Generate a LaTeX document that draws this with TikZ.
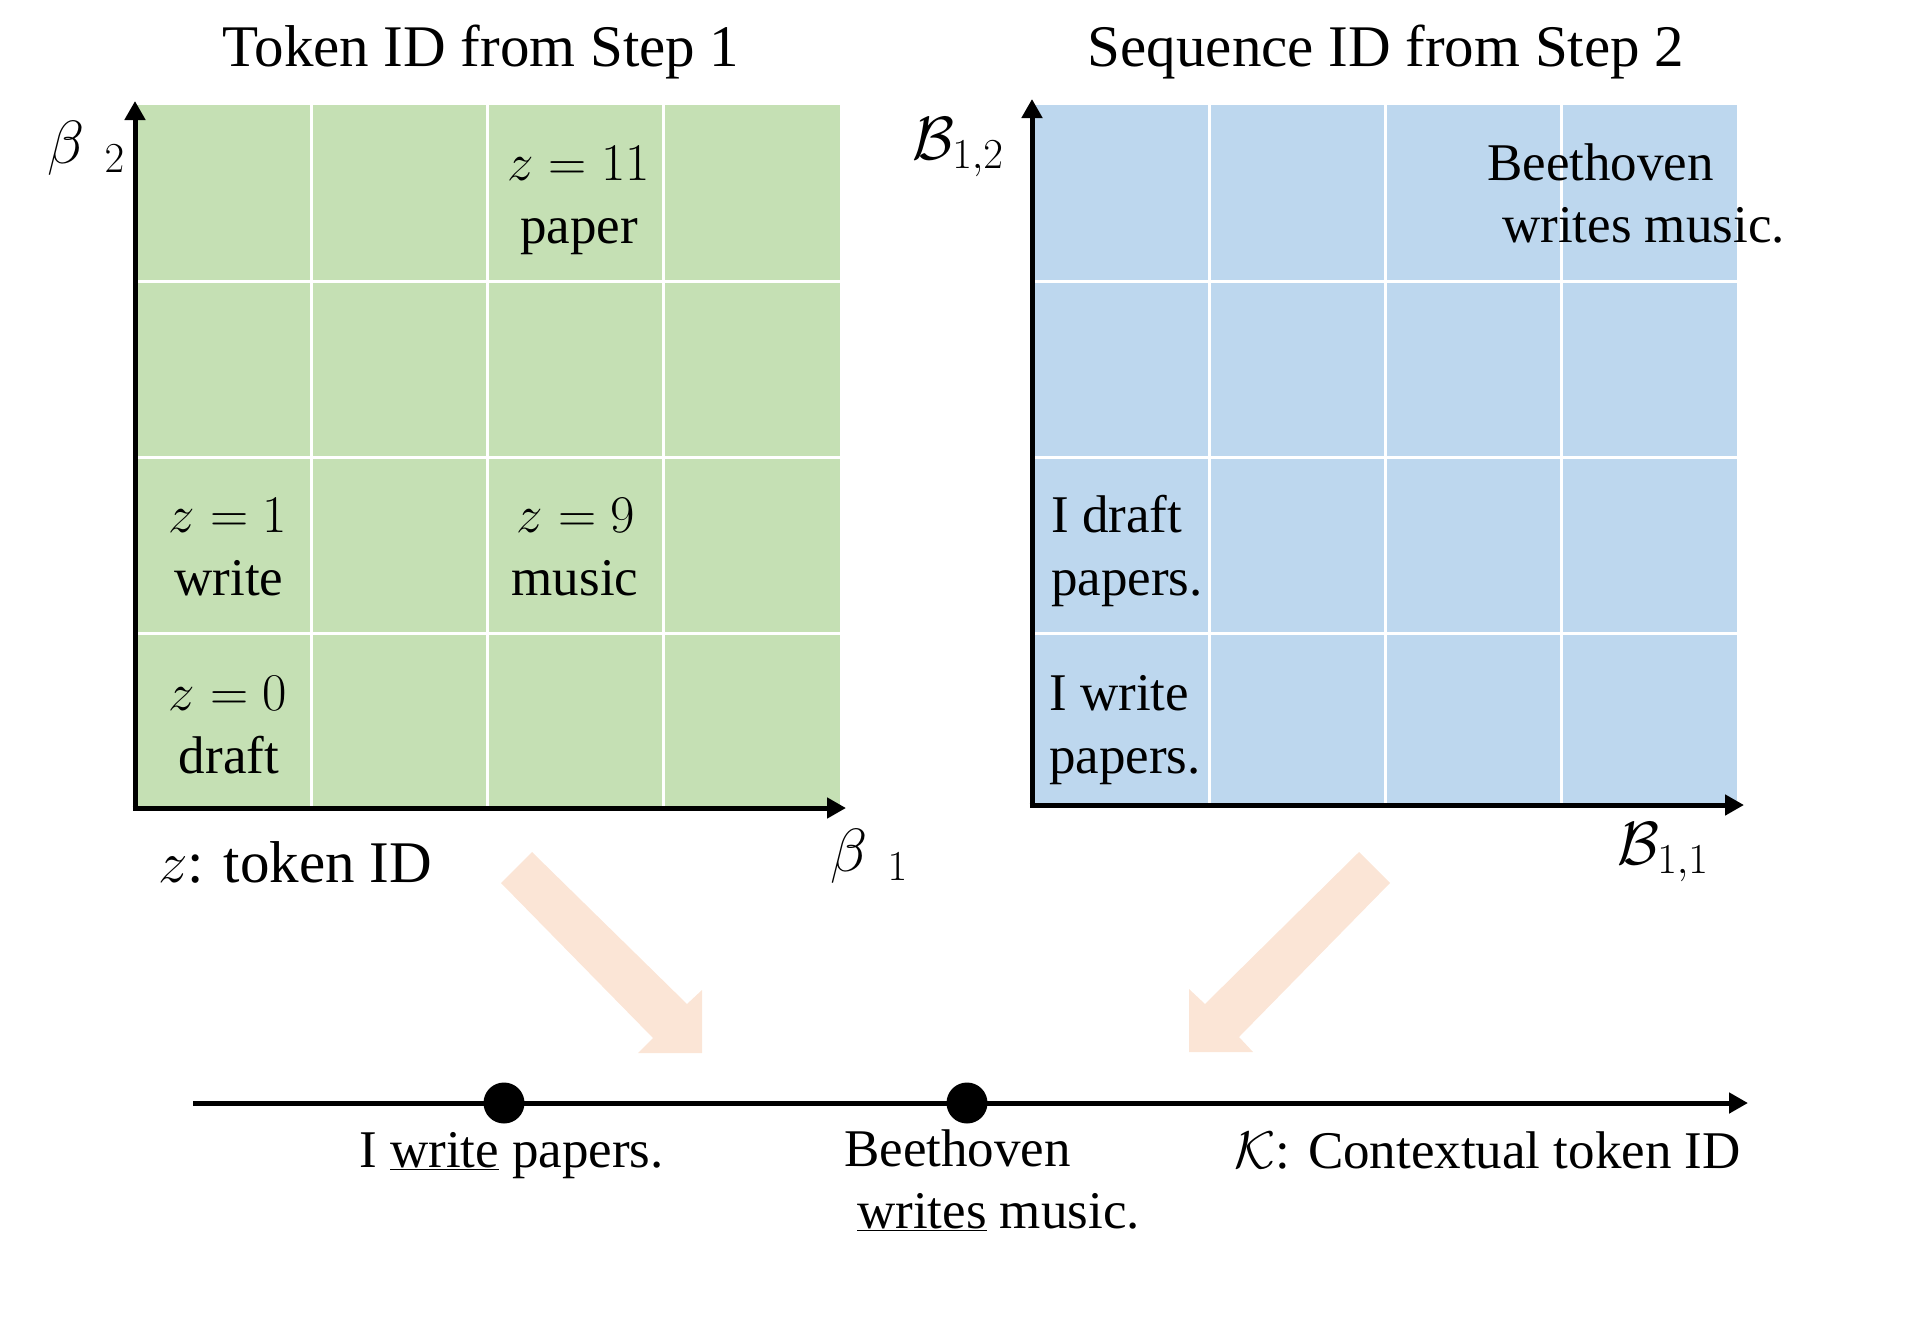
\documentclass[tikz,border=0pt]{standalone}
\usepackage{fix-cm}
\usepackage{fontspec}
\setmainfont{Liberation Serif}
\usetikzlibrary{arrows.meta}
\definecolor{gfill}{HTML}{C5E0B4}
\definecolor{bfill}{HTML}{BDD7EE}
\definecolor{pfill}{HTML}{FBE5D6}
\tikzset{
  txt/.style={font=\fontsize{53}{62}\selectfont, inner sep=0pt},
  ttl/.style={font=\fontsize{59}{70}\selectfont, inner sep=0pt},
  axlbl/.style={font=\fontsize{61}{70}\selectfont, inner sep=0pt},
  axisarrow/.style={line width=5pt, -{Triangle[length=19pt,width=20pt]}},
  gridline/.style={white, line width=3pt},
  bigarrow/.style={fill=pfill, draw=none},
  dotnode/.style={circle, fill=black, minimum size=41pt, inner sep=0pt},
}
\begin{document}
\begin{tikzpicture}[x=1pt,y=-1pt]
\useasboundingbox (0,0) rectangle (1920,1328);

% ---------- titles ----------
\node[ttl, anchor=base] (t1) at (481,66) {Token ID from Step 1};
\node[ttl, anchor=base] (t2) at (1386,66) {Sequence ID from Step 2};

% ---------- green grid ----------
\fill[gfill] (135,105) rectangle (840,808);
\foreach \x in {311,487,663} \draw[gridline] (\x,105) -- (\x,808);
\foreach \y in {281,457,633} \draw[gridline] (135,\y) -- (840,\y);
\coordinate (gO) at (135,808);
\coordinate (gY) at (135,101);
\coordinate (gX) at (846,808);
\draw[axisarrow] ([yshift=2.5pt]gO) -- (gY);
\draw[axisarrow] ([xshift=-2.5pt]gO) -- (gX);

\node[txt, anchor=base] (z11) at (579,180) {$z=11$};
\node[txt, anchor=base] (wpaper) at (579,243) {paper};
\node[txt, anchor=base] (z1) at (228,532) {$z=1$};
\node[txt, anchor=base] (wwrite) at (229,595) {write};
\node[txt, anchor=base] (z9) at (576,532) {$z=9$};
\node[txt, anchor=base] (wmusic) at (575,595) {music};
\node[txt, anchor=base] (z0) at (228,710) {$z=0$};
\node[txt, anchor=base] (wdraft) at (229,773) {draft};

\node[axlbl, anchor=base west] (b2) at (47,163) {$\beta_{\;\;2}$};
\node[axlbl, anchor=base west] (b1) at (830,871) {$\beta_{\;\;1}$};
\node[txt, anchor=base west, font=\fontsize{59}{70}\selectfont] (zlbl) at (158,882) {$z$: token ID};

% ---------- blue grid ----------
\fill[bfill] (1032,105) rectangle (1737,805);
\foreach \x in {1209,1385,1561} \draw[gridline] (\x,105) -- (\x,805);
\foreach \y in {281,457,633} \draw[gridline] (1032,\y) -- (1737,\y);
\coordinate (bO) at (1032,805);
\coordinate (bY) at (1032,99);
\coordinate (bX) at (1744,805);
\draw[axisarrow] ([yshift=2.5pt]bO) -- (bY);
\draw[axisarrow] ([xshift=-2.5pt]bO) -- (bX);

\node[txt, anchor=base west] (s1a) at (1487,180) {Beethoven};
\node[txt, anchor=base west] (s1b) at (1502,242) {writes music.};
\node[txt, anchor=base west] (s2a) at (1051,532) {I draft};
\node[txt, anchor=base west] (s2b) at (1051,595) {papers.};
\node[txt, anchor=base west] (s3a) at (1049,710) {I write};
\node[txt, anchor=base west] (s3b) at (1049,773) {papers.};

\node[axlbl, anchor=base west] (B12) at (912,159) {$\mathcal{B}_{1,2}$};
\node[axlbl, anchor=base west] (B11) at (1617,864) {$\mathcal{B}_{1,1}$};

% ---------- big peach arrows ----------
\fill[bigarrow] (532,852) -- (687,1004) -- (702,990) -- (702,1053) -- (638,1053) -- (653,1038) -- (501,883) -- cycle;
\fill[bigarrow] (1359,852) -- (1205,1004) -- (1189,989) -- (1189,1052) -- (1253,1052) -- (1239,1037) -- (1390,883) -- cycle;

% ---------- timeline ----------
\coordinate (kstart) at (193,1103);
\coordinate (kend) at (1748,1103);
\draw[axisarrow] (kstart) -- (kend);
\node[dotnode] (d1) at (504,1103) {};
\node[dotnode] (d2) at (967,1103) {};

\node[txt, anchor=base west] (c1) at (359,1167) {I \underline{write} papers.};
\node[txt, anchor=base west] (c2a) at (844,1166) {Beethoven};
\node[txt, anchor=base west] (c2b) at (857,1228) {\underline{writes} music.};
\node[txt, anchor=base east] (klbl) at (1741,1168) {$\mathcal{K}$: Contextual token ID};
\end{tikzpicture}
\end{document}
